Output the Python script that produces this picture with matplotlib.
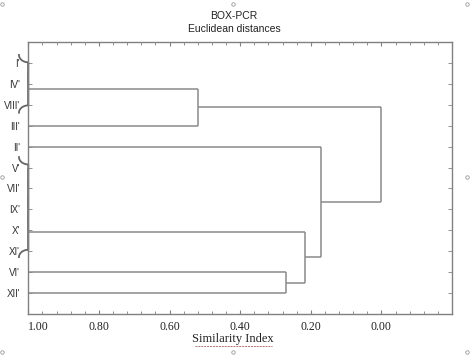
import numpy as np
import matplotlib
matplotlib.use("Agg")
import matplotlib.pyplot as plt
from matplotlib.ticker import MultipleLocator, FixedLocator
import matplotlib.transforms as mtransforms
from matplotlib.lines import Line2D

# leaf order, top to bottom
leaves = ["I'", "IV'", "VIII'", "III'", "II'", "V'", "VII'", "IX'", "X'", "XI'", "VI'", "XII'"]
# merges: (child a, child b, similarity); children < 12 are leaves, >= 12 earlier merges
merge_a = [0, 12, 13, 5, 15, 16, 17, 10, 18, 4, 14]
merge_b = [1, 2, 3, 6, 7, 8, 9, 11, 19, 20, 21]
merge_h = [1.0, 1.0, 0.52, 1.0, 1.0, 1.0, 1.0, 0.27, 0.215, 0.17, 0.0]
xticks = [1.0, 0.8, 0.6, 0.4, 0.2, 0.0]

line_col = "#8a8a8a"
spine_col = "#808080"

fig = plt.figure(figsize=(4.74, 3.57), dpi=100)
ax = fig.add_axes([0.0597, 0.1204, 0.8939, 0.7620])

# node positions
n = len(leaves)
ypos = {i: i + 1 for i in range(n)}
xpos = {i: 1.0 for i in range(n)}
for k, (a, b, h) in enumerate(zip(merge_a, merge_b, merge_h)):
    node = n + k
    ya, yb = ypos[a], ypos[b]
    ax.plot([xpos[a], h], [ya, ya], color=line_col, lw=1.1, clip_on=False, solid_capstyle="butt")
    ax.plot([xpos[b], h], [yb, yb], color=line_col, lw=1.1, clip_on=False, solid_capstyle="butt")
    ax.plot([h, h], [ya, yb], color=line_col, lw=1.1, clip_on=False, solid_capstyle="butt")
    ypos[node] = (ya + yb) / 2
    xpos[node] = h

ax.set_xlim(1.0, -0.2)
ax.set_ylim(13, 0)

ax.xaxis.set_major_locator(FixedLocator(xticks))
ax.xaxis.set_minor_locator(MultipleLocator(0.04))
ax.set_xticklabels(["%.2f" % v for v in xticks], fontfamily="Liberation Serif", fontsize=8.5, color="#222222")
ax.set_yticks(range(1, n + 1))
ax.set_yticklabels(leaves, fontfamily="Liberation Sans", fontsize=7, color="#333333")
ax.tick_params(axis="x", which="major", direction="in", length=3, width=0.8, color=spine_col,
               top=True, pad=5)
ax.tick_params(axis="x", which="minor", direction="in", length=2, width=0.6, color=spine_col, top=True)
ax.tick_params(axis="y", direction="in", length=3, width=0.6, color=spine_col, right=True, pad=6)
for lab in ax.get_xticklabels():
    if lab.get_text() == "1.00":
        lab.set_horizontalalignment("left")
for s in ax.spines.values():
    s.set_color(spine_col)
    s.set_linewidth(1.0)

# curly brackets grouping identical leaves, shaped like ")"
trans = mtransforms.blended_transform_factory(ax.transAxes, ax.transData)
for y0, y1 in [(0.62, 3.38), (5.5, 10.28)]:
    t = np.linspace(0, np.pi / 2, 20)
    dx, dy = 0.022, 0.35
    top_x = -dx * np.cos(t)
    top_y = y0 + dy * np.sin(t)
    bot_x = -dx * np.cos(t[::-1])
    bot_y = y1 - dy * np.sin(t[::-1])
    xs = np.concatenate([top_x, bot_x])
    ys = np.concatenate([top_y, bot_y])
    ax.plot(xs, ys, color="#666666", lw=1.3, transform=trans, clip_on=False)

fig.text(0.494, 0.955, "BOX-PCR", ha="center", va="center", fontfamily="Liberation Sans", fontsize=7.5, color="#222222")
fig.text(0.494, 0.918, "Euclidean distances", ha="center", va="center", fontfamily="Liberation Sans", fontsize=7.5, color="#222222")
fig.text(0.492, 0.05, "Similarity Index", ha="center", va="center", fontfamily="Liberation Serif", fontsize=9, color="#222222")
fig.add_artist(Line2D([0.412, 0.574], [0.031, 0.031], color="#b07070", lw=0.7, ls=(0, (2, 1))))

# selection handles
for hx, hy in [(0.004, 0.99), (0.492, 0.99), (0.985, 0.99), (0.004, 0.505), (0.985, 0.505),
               (0.004, 0.014), (0.492, 0.014), (0.985, 0.014)]:
    fig.add_artist(Line2D([hx], [hy], marker="o", ms=2.5, mfc="white", mec="#999999", mew=0.6))

fig.savefig("out.png", dpi=100)
